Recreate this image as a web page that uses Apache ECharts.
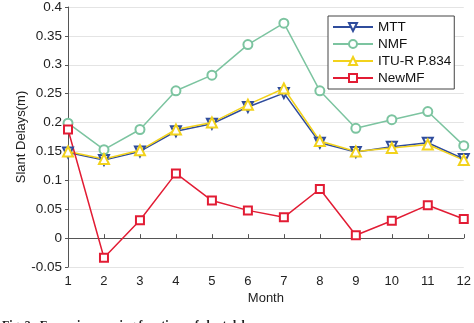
<!DOCTYPE html>
<html>
<head>
<meta charset="utf-8">
<script src="https://cdn.jsdelivr.net/npm/echarts@6/dist/echarts.min.js"></script>
<style>
  html, body { margin: 0; padding: 0; background: #fff; }
  #chart { width: 474px; height: 323px; }
</style>
</head>
<body>
<div id="chart"></div>
<script>
// Months on the horizontal axis
const months = ['1', '2', '3', '4', '5', '6', '7', '8', '9', '10', '11', '12'];

// Slant delay values (m) for each mapping function
const mtt    = [0.148, 0.135, 0.150, 0.185, 0.198, 0.227, 0.251, 0.165, 0.149, 0.158, 0.165, 0.137];
const nmf    = [0.199, 0.153, 0.188, 0.255, 0.282, 0.335, 0.372, 0.255, 0.190, 0.205, 0.219, 0.160];
const itu    = [0.150, 0.137, 0.152, 0.188, 0.200, 0.231, 0.259, 0.168, 0.150, 0.156, 0.162, 0.135];
const newmf  = [0.188, -0.034, 0.031, 0.112, 0.065, 0.048, 0.036, 0.085, 0.005, 0.030, 0.057, 0.033];

const font = 'Liberation Sans, Arial, sans-serif';
const chart = echarts.init(document.getElementById('chart'), null, { renderer: 'canvas' });

function lineSeries(name, data, color, symbol, size, rotate) {
  return {
    name: name,
    type: 'line',
    data: data,
    symbol: symbol,
    symbolSize: size,
    symbolRotate: rotate || 0,
    showAllSymbol: true,
    lineStyle: { color: color, width: 1.5 },
    itemStyle: { color: color, borderColor: color, borderWidth: 1.3 },
    emphasis: { disabled: true },
    animation: false
  };
}

chart.setOption({
  backgroundColor: '#fff',
  animation: false,
  grid: { left: 68, right: 8, top: 5, bottom: 56 },
  legend: {
    orient: 'vertical',
    left: 328,
    top: 16,
    padding: [3, 3, 3, 4],
    itemGap: 1,
    itemWidth: 40,
    itemHeight: 10,
    backgroundColor: '#fff',
    borderColor: '#444',
    borderWidth: 1,
    textStyle: { fontFamily: font, fontSize: 13.5, color: '#111', lineHeight: 16 },
    data: ['MTT', 'NMF', 'ITU-R P.834', 'NewMF']
  },
  xAxis: {
    type: 'category',
    data: months,
    boundaryGap: false,
    name: 'Month',
    nameLocation: 'middle',
    nameGap: 25,
    nameMoveOverlap: false,
    nameTextStyle: { fontFamily: font, fontSize: 13, color: '#222' },
    axisLine: { lineStyle: { color: '#555', width: 1 } },
    axisTick: { inside: true, length: 4, lineStyle: { color: '#555' } },
    axisLabel: { fontFamily: font, fontSize: 13, color: '#222', margin: 8 },
    splitLine: { show: false }
  },
  yAxis: {
    type: 'value',
    min: -0.05,
    max: 0.4,
    interval: 0.05,
    name: 'Slant Delays(m)',
    nameLocation: 'middle',
    nameGap: 40,
    nameMoveOverlap: false,
    nameTextStyle: { fontFamily: font, fontSize: 13, color: '#222' },
    axisLine: { show: true, lineStyle: { color: '#555', width: 1 } },
    axisTick: { show: true, length: 3, lineStyle: { color: '#555' } },
    axisLabel: {
      fontFamily: font, fontSize: 13.5, color: '#222', margin: 6,
      formatter: function (v) { return String(parseFloat(v.toFixed(2))); }
    },
    splitLine: { lineStyle: { color: '#e4e4e4', width: 1 } }
  },
  series: [
    lineSeries('MTT', mtt, '#2f4c9c', 'emptyTriangle', 10, 180),
    lineSeries('NMF', nmf, '#7cc4a0', 'emptyCircle', 9),
    lineSeries('ITU-R P.834', itu, '#f2d21c', 'emptyTriangle', 10),
    lineSeries('NewMF', newmf, '#e21c34', 'emptyRect', 8)
  ],
  graphic: [{
    type: 'text',
    left: 2,
    top: 320,
    style: {
      text: 'Fig. 3   Errors in mapping functions of slant delays',
      font: 'bold 12px "Liberation Serif", serif',
      fill: '#222'
    }
  }]
});
</script>
</body>
</html>
